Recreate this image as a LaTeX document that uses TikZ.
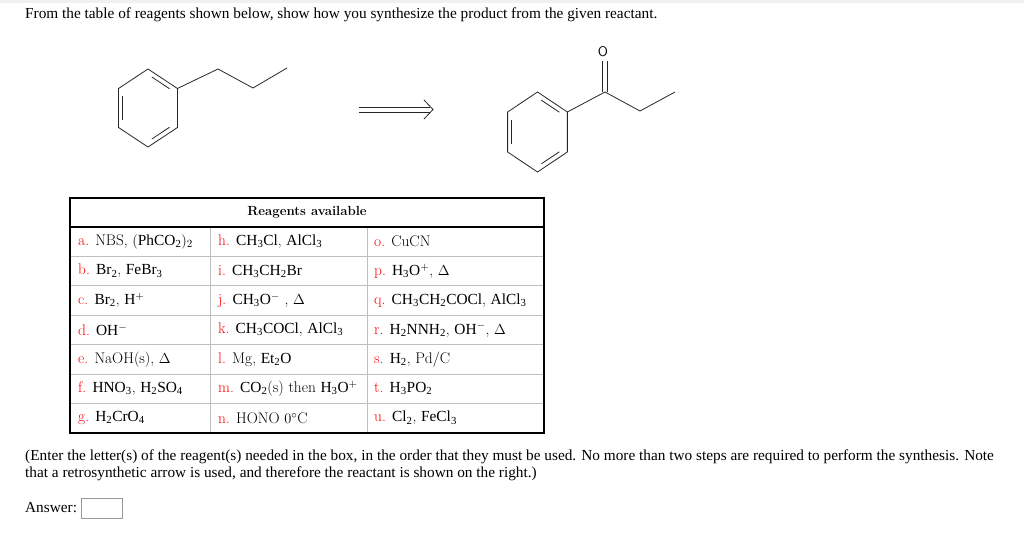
\documentclass[tikz,border=0pt]{standalone}
\usepackage{fontspec}
\usetikzlibrary{calc}
\setmainfont{Liberation Serif}
\newfontfamily\lm{Latin Modern Roman}
\begin{document}
\begin{tikzpicture}[x=1pt,y=-1pt,
  bond/.style={line width=0.8pt,draw=black!85},
  txt/.style={anchor=west,inner sep=0pt,font=\fontsize{15.3}{17}\selectfont},
  cell/.style={anchor=west,inner sep=0pt,font=\lm\fontsize{15.4}{17}\selectfont},
  lab/.style={text=red}]
\useasboundingbox (0,0) rectangle (1024,536);
\fill[black!6] (0,0) rectangle (1024,3);
\node[txt] (q) at (25,15) {From the table of reagents shown below, show how you synthesize the product from the given reactant.};
% reactant ring
\foreach \i/\a in {1/90,2/30,3/-30,4/-90,5/-150,6/150}{
  \coordinate (A\i) at ($(148,108)+(\a:34 and -39)$);}
\draw[bond] (A1)--(A2)--(A3)--(A4)--(A5)--(A6)--cycle;
\coordinate (Ac) at (148,108);
\draw[bond] ($(A1)!0.15!(A2)!0.14!(Ac)$)--($(A2)!0.15!(A1)!0.14!(Ac)$);
\draw[bond] ($(A3)!0.15!(A4)!0.14!(Ac)$)--($(A4)!0.15!(A3)!0.14!(Ac)$);
\draw[bond] ($(A5)!0.15!(A6)!0.14!(Ac)$)--($(A6)!0.15!(A5)!0.14!(Ac)$);
\coordinate (C1) at (218,69); \coordinate (C2) at (253,88); \coordinate (C3) at (287,68);
\draw[bond] (A2)--(C1)--(C2)--(C3);
% retro arrow
\coordinate (r1) at (359,107); \coordinate (r2) at (430,107);
\coordinate (r3) at (359,112); \coordinate (r4) at (430,112);
\draw[bond] (r1)--(r2); \draw[bond] (r3)--(r4);
\coordinate (rh) at (433,109.5);
\draw[bond] (424,100)--(rh)--(424,119);
% product ring
\foreach \i/\a in {1/90,2/30,3/-30,4/-90,5/-150,6/150}{
  \coordinate (B\i) at ($(537.5,132)+(\a:34.5 and -40)$);}
\coordinate (Bc) at (537.5,132);
\draw[bond] (B1)--(B2)--(B3)--(B4)--(B5)--(B6)--cycle;
\draw[bond] ($(B1)!0.15!(B2)!0.14!(Bc)$)--($(B2)!0.15!(B1)!0.14!(Bc)$);
\draw[bond] ($(B3)!0.15!(B4)!0.14!(Bc)$)--($(B4)!0.15!(B3)!0.14!(Bc)$);
\draw[bond] ($(B5)!0.15!(B6)!0.14!(Bc)$)--($(B6)!0.15!(B5)!0.14!(Bc)$);
\coordinate (K) at (605,92); \coordinate (E1) at (640,111); \coordinate (E2) at (675,92);
\draw[bond] (B2)--(K)--(E1)--(E2);
\node[inner sep=0pt,font=\fontsize{14}{14}\sffamily] (O) at (603,52) {O};
\draw[bond] (602.5,92)--(602.5,61); \draw[bond] (607,92)--(607,61);
% table
\foreach \k in {1,...,6}{\draw[black!25,line width=0.7pt] (70,{227+29.4*\k}) -- (544,{227+29.4*\k});}
\draw[black!25,line width=0.7pt] (210,227)--(210,433) (367,227)--(367,433);
\draw[line width=1.2pt] (70,227)--(544,227);
\draw[line width=1.3pt] (70,198) rectangle (544,433);
\node[inner sep=0pt,font=\lm\bfseries\fontsize{13.2}{15}\selectfont] (hd) at (307,212.5) {Reagents available};
\newcommand{\rowy}[1]{241.7+29.4*#1}
\node[cell] (ca) at (78,{\rowy{0}}) {\textcolor{red}{a.} NBS, $(\mathrm{PhCO_2})_2$};
\node[cell] (cb) at (78,{\rowy{1}}) {\textcolor{red}{b.} $\mathrm{Br_2}$, $\mathrm{FeBr_3}$};
\node[cell] (cc) at (78,{\rowy{2}}) {\textcolor{red}{c.} $\mathrm{Br_2}$, $\mathrm{H^+}$};
\node[cell] (cd) at (78,{\rowy{3}}) {\textcolor{red}{d.} $\mathrm{OH^-}$};
\node[cell] (ce) at (78,{\rowy{4}}) {\textcolor{red}{e.} NaOH(s), $\Delta$};
\node[cell] (cf) at (78,{\rowy{5}}) {\textcolor{red}{f.} $\mathrm{HNO_3}$, $\mathrm{H_2SO_4}$};
\node[cell] (cg) at (78,{\rowy{6}}) {\textcolor{red}{g.} $\mathrm{H_2CrO_4}$};
\node[cell] (ch) at (218,{\rowy{0}}) {\textcolor{red}{h.} $\mathrm{CH_3Cl}$, $\mathrm{AlCl_3}$};
\node[cell] (ci) at (218,{\rowy{1}}) {\textcolor{red}{i.} $\mathrm{CH_3CH_2Br}$};
\node[cell] (cj) at (218,{\rowy{2}}) {\textcolor{red}{j.} $\mathrm{CH_3O^-}$ , $\Delta$};
\node[cell] (ck) at (218,{\rowy{3}}) {\textcolor{red}{k.} $\mathrm{CH_3COCl}$, $\mathrm{AlCl_3}$};
\node[cell] (cl) at (218,{\rowy{4}}) {\textcolor{red}{l.} Mg, $\mathrm{Et_2O}$};
\node[cell] (cm) at (218,{\rowy{5}}) {\textcolor{red}{m.} $\mathrm{CO_2}$(s) then $\mathrm{H_3O^+}$};
\node[cell] (cn) at (218,{\rowy{6}}) {\textcolor{red}{n.} HONO $0^\circ$C};
\node[cell] (co) at (374,{\rowy{0}}) {\textcolor{red}{o.} CuCN};
\node[cell] (cp) at (374,{\rowy{1}}) {\textcolor{red}{p.} $\mathrm{H_3O^+}$, $\Delta$};
\node[cell] (cq) at (374,{\rowy{2}}) {\textcolor{red}{q.} $\mathrm{CH_3CH_2COCl}$, $\mathrm{AlCl_3}$};
\node[cell] (cr) at (374,{\rowy{3}}) {\textcolor{red}{r.} $\mathrm{H_2NNH_2}$, $\mathrm{OH^-}$, $\Delta$};
\node[cell] (cs) at (374,{\rowy{4}}) {\textcolor{red}{s.} $\mathrm{H_2}$, Pd/C};
\node[cell] (ct) at (374,{\rowy{5}}) {\textcolor{red}{t.} $\mathrm{H_3PO_2}$};
\node[cell] (cu) at (374,{\rowy{6}}) {\textcolor{red}{u.} $\mathrm{Cl_2}$, $\mathrm{FeCl_3}$};
% paragraph
\node[txt] (p1) at (25,457) {(Enter the letter(s) of the reagent(s) needed in the box, in the order that they must be used. No more than two steps are required to perform the synthesis. Note};
\node[txt] (p2) at (25,474) {that a retrosynthetic arrow is used, and therefore the reactant is shown on the right.)};
\node[txt] (ans) at (25,508) {Answer:};
\node[draw=black!40,minimum width=41pt,minimum height=20pt,inner sep=0pt,anchor=west] (box) at (81,508) {};
\end{tikzpicture}
\end{document}
